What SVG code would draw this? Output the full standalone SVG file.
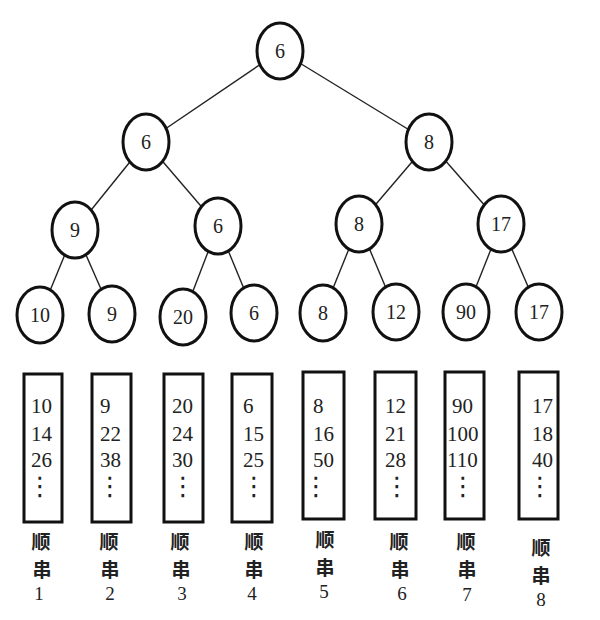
<svg xmlns="http://www.w3.org/2000/svg" width="600" height="620" viewBox="0 0 600 620">
<style>
.node ellipse{fill:#fff;stroke:#111;stroke-width:3}
.node text{font-family:"Liberation Serif",serif;font-size:20px;fill:#222;text-anchor:middle}
#edges line{stroke:#222;stroke-width:1.4}
.run rect{fill:#fff;stroke:#111;stroke-width:3}
.run text.n{font-family:"Liberation Serif",serif;font-size:21px;fill:#222}
.run text.d{font-family:"DejaVu Sans",sans-serif;font-size:26px;fill:#222;text-anchor:middle}
.run text.c{font-family:"Noto Sans CJK SC",sans-serif;font-size:19px;font-weight:bold;fill:#222;text-anchor:middle}
.run text.k{font-family:"Liberation Serif",serif;font-size:19px;fill:#222;text-anchor:middle}
</style>
<rect width="600" height="620" fill="#fff"/>
<g id="edges">
<line x1="280" y1="51" x2="146" y2="142"/>
<line x1="280" y1="51" x2="429" y2="142"/>
<line x1="146" y1="142" x2="75" y2="230"/>
<line x1="146" y1="142" x2="218" y2="226"/>
<line x1="429" y1="142" x2="359" y2="224"/>
<line x1="429" y1="142" x2="501" y2="224"/>
<line x1="75" y1="230" x2="40" y2="315"/>
<line x1="75" y1="230" x2="112" y2="314"/>
<line x1="218" y1="226" x2="183" y2="317"/>
<line x1="218" y1="226" x2="254" y2="313"/>
<line x1="359" y1="224" x2="323" y2="313"/>
<line x1="359" y1="224" x2="396" y2="312"/>
<line x1="501" y1="224" x2="466" y2="312"/>
<line x1="501" y1="224" x2="539" y2="312"/>
</g>
<g id="n-root" class="node"><ellipse cx="280" cy="51" rx="23" ry="28"/><text x="280" y="58">6</text></g>
<g id="n-l" class="node"><ellipse cx="146" cy="142" rx="23" ry="28"/><text x="146" y="149">6</text></g>
<g id="n-r" class="node"><ellipse cx="429" cy="142" rx="23" ry="28"/><text x="429" y="149">8</text></g>
<g id="n-ll" class="node"><ellipse cx="75" cy="230" rx="23" ry="28"/><text x="75" y="237">9</text></g>
<g id="n-lr" class="node"><ellipse cx="218" cy="226" rx="23" ry="28"/><text x="218" y="233">6</text></g>
<g id="n-rl" class="node"><ellipse cx="359" cy="224" rx="23" ry="28"/><text x="359" y="231">8</text></g>
<g id="n-rr" class="node"><ellipse cx="501" cy="224" rx="23" ry="28"/><text x="501" y="231">17</text></g>
<g id="leaf1" class="node"><ellipse cx="40" cy="315" rx="23" ry="28"/><text x="40" y="322">10</text></g>
<g id="leaf2" class="node"><ellipse cx="112" cy="314" rx="23" ry="28"/><text x="112" y="321">9</text></g>
<g id="leaf3" class="node"><ellipse cx="183" cy="317" rx="23" ry="28"/><text x="183" y="324">20</text></g>
<g id="leaf4" class="node"><ellipse cx="254" cy="313" rx="23" ry="28"/><text x="254" y="320">6</text></g>
<g id="leaf5" class="node"><ellipse cx="323" cy="313" rx="23" ry="28"/><text x="323" y="320">8</text></g>
<g id="leaf6" class="node"><ellipse cx="396" cy="312" rx="23" ry="28"/><text x="396" y="319">12</text></g>
<g id="leaf7" class="node"><ellipse cx="466" cy="312" rx="23" ry="28"/><text x="466" y="319">90</text></g>
<g id="leaf8" class="node"><ellipse cx="539" cy="312" rx="23" ry="28"/><text x="539" y="319">17</text></g>

<g id="run1" class="run"><rect x="24" y="374" width="38" height="148"/>
<text class="n" x="31" y="413">10</text><text class="n" x="31" y="441">14</text><text class="n" x="31" y="467">26</text><text class="d" x="40" y="495">⋮</text>
<text class="c" x="41" y="549">顺</text><text class="c" x="42" y="577">串</text><text class="k" x="39" y="600">1</text></g>
<g id="run2" class="run"><rect x="92" y="374" width="39" height="148"/>
<text class="n" x="100" y="413">9</text><text class="n" x="100" y="441">22</text><text class="n" x="100" y="467">38</text><text class="d" x="110" y="495">⋮</text>
<text class="c" x="109" y="549">顺</text><text class="c" x="110" y="577">串</text><text class="k" x="110" y="600">2</text></g>
<g id="run3" class="run"><rect x="164" y="374" width="39" height="148"/>
<text class="n" x="172" y="413">20</text><text class="n" x="172" y="441">24</text><text class="n" x="172" y="467">30</text><text class="d" x="183" y="495">⋮</text>
<text class="c" x="180" y="549">顺</text><text class="c" x="181" y="577">串</text><text class="k" x="182" y="600">3</text></g>
<g id="run4" class="run"><rect x="232" y="374" width="40" height="148"/>
<text class="n" x="243" y="413">6</text><text class="n" x="243" y="441">15</text><text class="n" x="243" y="467">25</text><text class="d" x="254" y="495">⋮</text>
<text class="c" x="254" y="549">顺</text><text class="c" x="254" y="577">串</text><text class="k" x="252" y="600">4</text></g>
<g id="run5" class="run"><rect x="303" y="372" width="41" height="147"/>
<text class="n" x="313" y="413">8</text><text class="n" x="313" y="441">16</text><text class="n" x="313" y="467">50</text><text class="d" x="316" y="495">⋮</text>
<text class="c" x="325" y="547">顺</text><text class="c" x="325" y="575">串</text><text class="k" x="324" y="598">5</text></g>
<g id="run6" class="run"><rect x="375" y="372" width="41" height="147"/>
<text class="n" x="385" y="413">12</text><text class="n" x="385" y="441">21</text><text class="n" x="385" y="467">28</text><text class="d" x="397" y="495">⋮</text>
<text class="c" x="399" y="549">顺</text><text class="c" x="400" y="577">串</text><text class="k" x="402" y="600">6</text></g>
<g id="run7" class="run"><rect x="445" y="372" width="39" height="147"/>
<text class="n" x="452" y="413">90</text><text class="n" x="447" y="441">100</text><text class="n" x="447" y="467">110</text><text class="d" x="463" y="495">⋮</text>
<text class="c" x="466" y="549">顺</text><text class="c" x="467" y="577">串</text><text class="k" x="467" y="601">7</text></g>
<g id="run8" class="run"><rect x="519" y="372" width="39" height="147"/>
<text class="n" x="532" y="413">17</text><text class="n" x="532" y="441">18</text><text class="n" x="532" y="467">40</text><text class="d" x="540" y="495">⋮</text>
<text class="c" x="541" y="555">顺</text><text class="c" x="541" y="583">串</text><text class="k" x="541" y="606">8</text></g>
</svg>
